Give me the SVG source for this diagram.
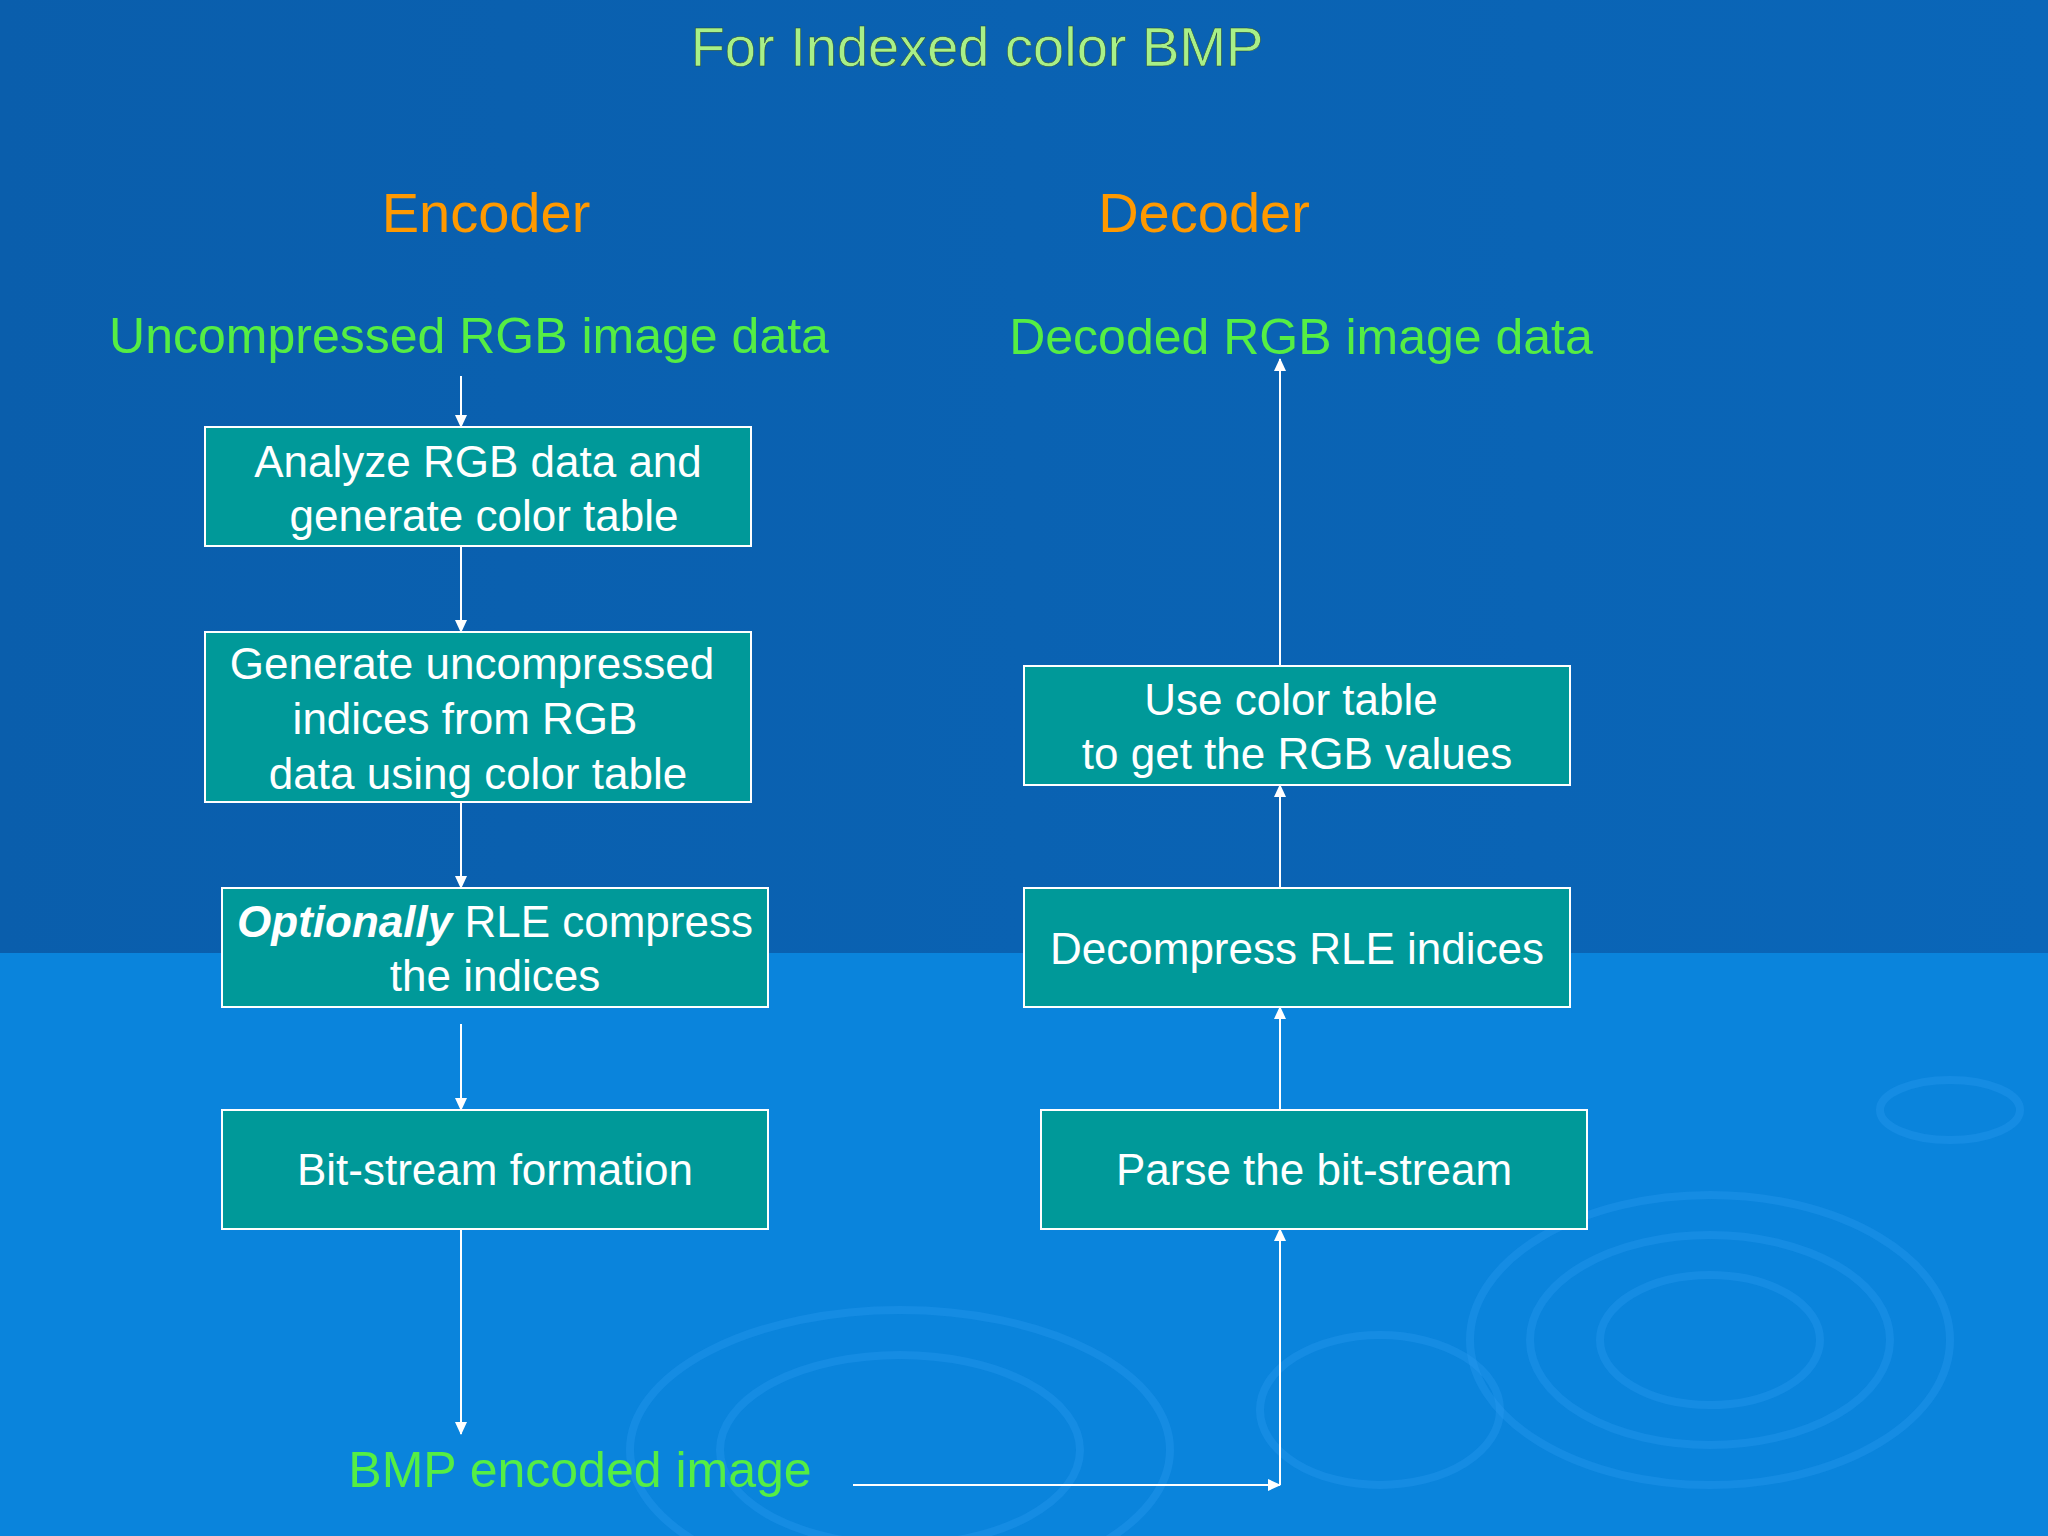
<svg xmlns="http://www.w3.org/2000/svg" width="2048" height="1536" viewBox="0 0 2048 1536">
<defs>
<style>
.box{fill:#009999;stroke:#ffffff;stroke-width:2}
.bt{font-family:"Liberation Sans",Arial,sans-serif;font-size:44px;fill:#ffffff;text-anchor:middle}
.g{font-family:"Liberation Sans",Arial,sans-serif;font-size:50px;fill:#55ee44;text-anchor:middle}
.h{font-family:"Liberation Sans",Arial,sans-serif;font-size:56px;fill:#ff9900;text-anchor:middle}
.ln{stroke:#ffffff;stroke-width:2;fill:none;marker-end:url(#ah)}
.rp{fill:none;stroke:#2a9af0;stroke-width:8;opacity:0.35}
</style>
<marker id="ah" markerWidth="14" markerHeight="14" refX="12" refY="6" orient="auto" markerUnits="userSpaceOnUse"><path d="M0,0 L13,6 L0,12 Z" fill="#ffffff"/></marker>
<linearGradient id="bg1" x1="0" y1="0" x2="1" y2="0"><stop offset="0" stop-color="#0a5eac"/><stop offset="1" stop-color="#0a66b8"/></linearGradient>
</defs>
<rect width="2048" height="953" fill="url(#bg1)"/>
<rect y="953" width="2048" height="583" fill="#0a84dc"/>
<g id="ripples">
<ellipse class="rp" cx="1710" cy="1340" rx="240" ry="145"/>
<ellipse class="rp" cx="1710" cy="1340" rx="180" ry="105"/>
<ellipse class="rp" cx="1710" cy="1340" rx="110" ry="65"/>
<ellipse class="rp" cx="1380" cy="1410" rx="120" ry="75"/>
<ellipse class="rp" cx="900" cy="1450" rx="270" ry="140"/>
<ellipse class="rp" cx="900" cy="1450" rx="180" ry="95"/>
<ellipse class="rp" cx="1950" cy="1110" rx="70" ry="30"/>
</g>
<text x="977" y="66" font-family="Liberation Sans,Arial,sans-serif" font-size="56" fill="#a8f088" text-anchor="middle" stroke="#2a4a2a" stroke-width="0.5">For Indexed color BMP</text>
<text class="h" x="486" y="232">Encoder</text>
<text class="h" x="1204" y="232">Decoder</text>
<text class="g" x="469" y="353">Uncompressed RGB image data</text>
<text class="g" x="1301" y="354">Decoded RGB image data</text>
<text class="g" x="580" y="1487">BMP encoded image</text>
<g id="A"><rect class="box" x="205" y="427" width="546" height="119"/><text class="bt" x="478" y="477">Analyze RGB data and</text><text class="bt" x="484" y="531">generate color table</text></g>
<g id="B"><rect class="box" x="205" y="632" width="546" height="170"/><text class="bt" x="472" y="679">Generate uncompressed</text><text class="bt" x="465" y="734">indices from RGB</text><text class="bt" x="478" y="789">data using color table</text></g>
<g id="C"><rect class="box" x="222" y="888" width="546" height="119"/><text class="bt" x="495" y="937"><tspan font-weight="bold" font-style="italic">Optionally</tspan> RLE compress</text><text class="bt" x="495" y="991">the indices</text></g>
<g id="D"><rect class="box" x="222" y="1110" width="546" height="119"/><text class="bt" x="495" y="1185">Bit-stream formation</text></g>
<g id="E"><rect class="box" x="1024" y="666" width="546" height="119"/><text class="bt" x="1291" y="715">Use color table</text><text class="bt" x="1297" y="769">to get the RGB values</text></g>
<g id="F"><rect class="box" x="1024" y="888" width="546" height="119"/><text class="bt" x="1297" y="964">Decompress RLE indices</text></g>
<g id="G"><rect class="box" x="1041" y="1110" width="546" height="119"/><text class="bt" x="1314" y="1185">Parse the bit-stream</text></g>
<g id="connectors">
<line class="ln" x1="461" y1="376" x2="461" y2="427"/>
<line class="ln" x1="461" y1="546" x2="461" y2="632"/>
<line class="ln" x1="461" y1="802" x2="461" y2="888"/>
<line class="ln" x1="461" y1="1024" x2="461" y2="1110"/>
<line class="ln" x1="461" y1="1229" x2="461" y2="1434"/>
<line class="ln" x1="853" y1="1485" x2="1280" y2="1485"/>
<line class="ln" x1="1280" y1="1485" x2="1280" y2="1229"/>
<line class="ln" x1="1280" y1="1110" x2="1280" y2="1007"/>
<line class="ln" x1="1280" y1="888" x2="1280" y2="785"/>
<line class="ln" x1="1280" y1="666" x2="1280" y2="359"/>
</g>
</svg>
